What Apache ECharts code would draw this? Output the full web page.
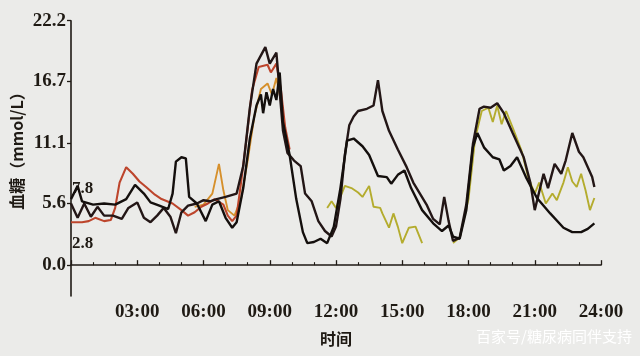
<!DOCTYPE html>
<html>
<head>
<meta charset="utf-8">
<script src="https://cdn.jsdelivr.net/npm/echarts@6/dist/echarts.min.js"></script>
<style>
html,body{margin:0;padding:0;background:#ebebe9;}
#c{width:640px;height:356px;}
</style>
</head>
<body>
<div id="c"></div>
<script>
// Hours of day on x, blood glucose (mmol/L) on y
const xTickHours = [3, 6, 9, 12, 15, 18, 21, 24];
const yTickLabels = [0, 5.6, 11.1, 16.7, 22.2];
const refLines = [7.8, 2.8];

const black1 = [[0,6.0],[0.3,7.2],[0.5,5.8],[1,5.5],[1.5,5.6],[2,5.5],[2.5,6.0],[2.9,7.3],[3.3,6.5],[3.6,5.7],[4,5.4],[4.4,5.1],[4.6,6.5],[4.75,9.4],[5.0,9.8],[5.2,9.7],[5.35,6.2],[5.7,5.6],[6.1,4.0],[6.4,5.5],[6.7,5.8],[7.0,4.3],[7.3,3.4],[7.5,3.9],[7.8,7.0],[8.1,11.5],[8.4,14.5],[8.6,15.5],[8.7,13.8],[8.85,15.7],[9.0,14.5],[9.15,16.0],[9.3,15.0],[9.45,17.5],[9.6,13.0],[9.9,10.0],[10.2,6.0],[10.5,3.0],[10.7,2.0],[11.0,2.1],[11.3,2.4],[11.6,2.0],[11.9,3.5],[12.2,7.0],[12.5,11.3],[12.8,11.5],[13.2,10.8],[13.5,10.0],[13.9,8.1],[14.3,8.0],[14.5,7.4],[14.8,8.2],[15.1,8.6],[15.4,7.0],[15.9,5.0],[16.4,3.8],[16.8,3.1],[17.1,3.6],[17.3,2.6],[17.6,2.4],[17.9,5.0],[18.2,10.7],[18.4,12.0],[18.7,10.7],[19.1,9.8],[19.4,9.6],[19.6,8.6],[19.9,9.0],[20.2,9.8],[20.6,8.0],[21.1,6.1],[21.7,4.7],[22.3,3.4],[22.7,3.0],[23.1,3.0],[23.4,3.3],[23.7,3.8]];

const black2 = [[0,5.6],[0.3,4.3],[0.6,5.6],[0.9,4.4],[1.2,5.3],[1.5,4.5],[1.9,4.5],[2.3,4.2],[2.6,5.2],[3.0,5.7],[3.3,4.3],[3.6,3.9],[3.9,4.5],[4.2,5.2],[4.5,4.4],[4.75,2.9],[5.0,4.8],[5.3,5.4],[5.7,5.6],[6.0,5.9],[6.3,5.8],[6.6,6.0],[7.0,6.2],[7.5,6.5],[7.8,9.0],[8.1,14.3],[8.4,18.3],[8.8,19.8],[9.0,18.3],[9.3,19.3],[9.6,12.2],[9.8,10.2],[10.1,9.5],[10.4,9.0],[10.6,6.5],[10.9,5.8],[11.2,4.0],[11.5,3.1],[11.8,2.6],[12.0,3.5],[12.2,6.0],[12.4,10.0],[12.6,12.7],[12.8,13.5],[13.0,14.0],[13.4,14.2],[13.7,14.5],[13.9,16.8],[14.1,14.0],[14.4,12.2],[14.8,10.5],[15.2,8.9],[15.5,7.5],[15.8,6.5],[16.1,5.5],[16.4,4.2],[16.7,3.7],[16.9,6.2],[17.1,4.0],[17.3,2.2],[17.6,2.5],[17.9,5.5],[18.2,11.0],[18.5,14.2],[18.7,14.4],[19.0,14.3],[19.3,14.7],[19.6,13.8],[20.0,12.0],[20.5,9.8],[20.8,7.5],[21.0,5.0],[21.4,8.3],[21.6,7.0],[21.9,9.2],[22.2,8.3],[22.4,9.5],[22.7,12.0],[23.0,10.3],[23.2,9.8],[23.6,8.0],[23.7,7.1]];

const redLine = [[0,3.9],[0.5,3.9],[0.8,4.0],[1.1,4.3],[1.5,4.0],[1.8,4.1],[2.0,5.2],[2.2,7.5],[2.5,8.9],[2.8,8.3],[3.1,7.6],[3.4,7.1],[3.8,6.4],[4.1,6.0],[4.6,5.6],[5.0,5.0],[5.3,4.5],[5.6,4.8],[5.9,5.3],[6.2,5.6],[6.5,6.0],[6.9,5.5],[7.1,4.5],[7.3,4.0],[7.5,4.5],[7.7,7.5],[7.9,10.7],[8.2,15.9],[8.5,18.0],[8.9,18.2],[9.05,17.5],[9.3,18.3],[9.5,16.0],[9.7,12.5],[9.9,10.5]];

const yellowMorning = [[5.6,5.3],[6.0,5.5],[6.4,6.5],[6.7,9.2],[6.9,6.8],[7.1,5.0],[7.4,4.5],[7.7,6.0],[8.0,9.5],[8.3,13.5],[8.6,16.0],[8.9,16.5],[9.1,15.5],[9.3,17.0],[9.5,15.0],[9.7,12.0]];
const yellowAfternoon = [[11.6,5.2],[11.8,5.8],[12.0,5.2],[12.4,7.2],[12.7,7.0],[13.0,6.6],[13.2,6.2],[13.5,7.2],[13.7,5.3],[14.0,5.2],[14.1,4.7],[14.4,3.4],[14.6,4.7],[14.8,3.5],[15.0,2.0],[15.3,3.4],[15.6,3.5],[15.9,2.0]];
const yellowEvening = [[17.3,2.0],[17.6,2.5],[18.0,6.0],[18.3,11.5],[18.6,14.0],[18.9,14.3],[19.1,13.0],[19.3,14.5],[19.5,12.8],[19.7,14.0],[20.0,12.5],[20.4,10.4],[20.7,8.0],[21.0,6.5],[21.2,7.5],[21.5,5.6],[21.8,6.5],[22.0,5.9],[22.3,7.5],[22.5,8.9],[22.7,7.6],[22.9,7.1],[23.1,8.3],[23.3,6.8],[23.5,5.0],[23.7,6.1]];

const serif = 'Liberation Serif';
const ink = '#1f1a14';

function line(data, color, width, z) {
  return { type: 'line', data: data, symbol: 'none', smooth: false, z: z,
    lineStyle: { color: color, width: width }, itemStyle: { color: color } };
}

const chart = echarts.init(document.getElementById('c'), null, { renderer: 'canvas' });
chart.setOption({
  backgroundColor: '#ebebe9',
  animation: false,
  grid: { left: 71, right: 39, top: 20.7, bottom: 60 },
  xAxis: {
    type: 'value', min: 0, max: 24, interval: 3,
    name: '时间', nameLocation: 'middle', nameGap: 35,
    nameTextStyle: { color: ink, fontSize: 16, fontWeight: 'bold', fontFamily: 'Noto Sans CJK SC' },
    axisLine: { lineStyle: { color: ink, width: 1.6 } },
    axisTick: { inside: true, length: 5, lineStyle: { color: ink, width: 1.3 } },
    minorTick: { show: true, splitNumber: 3, length: 3, lineStyle: { color: ink, width: 1.1 } },
    splitLine: { show: false },
    axisLabel: { margin: 7, color: ink, fontSize: 19, fontWeight: 'bold', fontFamily: serif,
      customValues: xTickHours,
      formatter: v => (v < 10 ? '0' : '') + v + ':00' }
  },
  yAxis: {
    type: 'value', min: -2.8, max: 22.2,
    axisLine: { show: true, onZero: false, lineStyle: { color: ink, width: 1.6 } },
    axisTick: { show: true, length: 4, customValues: yTickLabels, lineStyle: { color: ink, width: 1.3 } },
    splitLine: { show: false },
    axisLabel: { margin: 5, color: ink, fontSize: 19, fontWeight: 'bold', fontFamily: serif,
      customValues: yTickLabels, formatter: v => v.toFixed(1) }
  },
  graphic: [
    { type: 'text', x: 17, y: 147, rotation: Math.PI / 2,
      style: { text: '血糖（mmol/L）', x: 0, y: 0, align: 'center', verticalAlign: 'middle',
        fill: ink, fontSize: 16, fontWeight: 'bold', fontFamily: 'Noto Sans CJK SC' } },
    { type: 'text', right: 8, top: 329,
      style: { text: '百家号/糖尿病同伴支持', fill: '#ffffff', fontSize: 15,
        fontFamily: 'Noto Sans CJK SC', shadowColor: 'rgba(0,0,0,0.25)', shadowBlur: 2 } }
  ],
  series: [
    line(yellowMorning, '#d6902c', 1.9, 2),
    line(yellowAfternoon, '#b4ac2e', 1.9, 2),
    line(yellowEvening, '#b4ac2e', 1.9, 2),
    Object.assign(line(redLine, '#bd452c', 2.1, 3), {
      markLine: { silent: true, symbol: 'none',
        lineStyle: { color: 'transparent', width: 0 },
        label: { show: true, position: 'insideStartBottom', distance: [1, 1], color: ink, fontSize: 17,
          fontWeight: 'bold', fontFamily: serif, formatter: p => p.value.toFixed(1) },
        data: refLines.map(v => ({ yAxis: v })) } }),
    line(black2, '#231616', 2.4, 4),
    line(black1, '#140f0d', 2.4, 5)
  ]
});
</script>
</body>
</html>
